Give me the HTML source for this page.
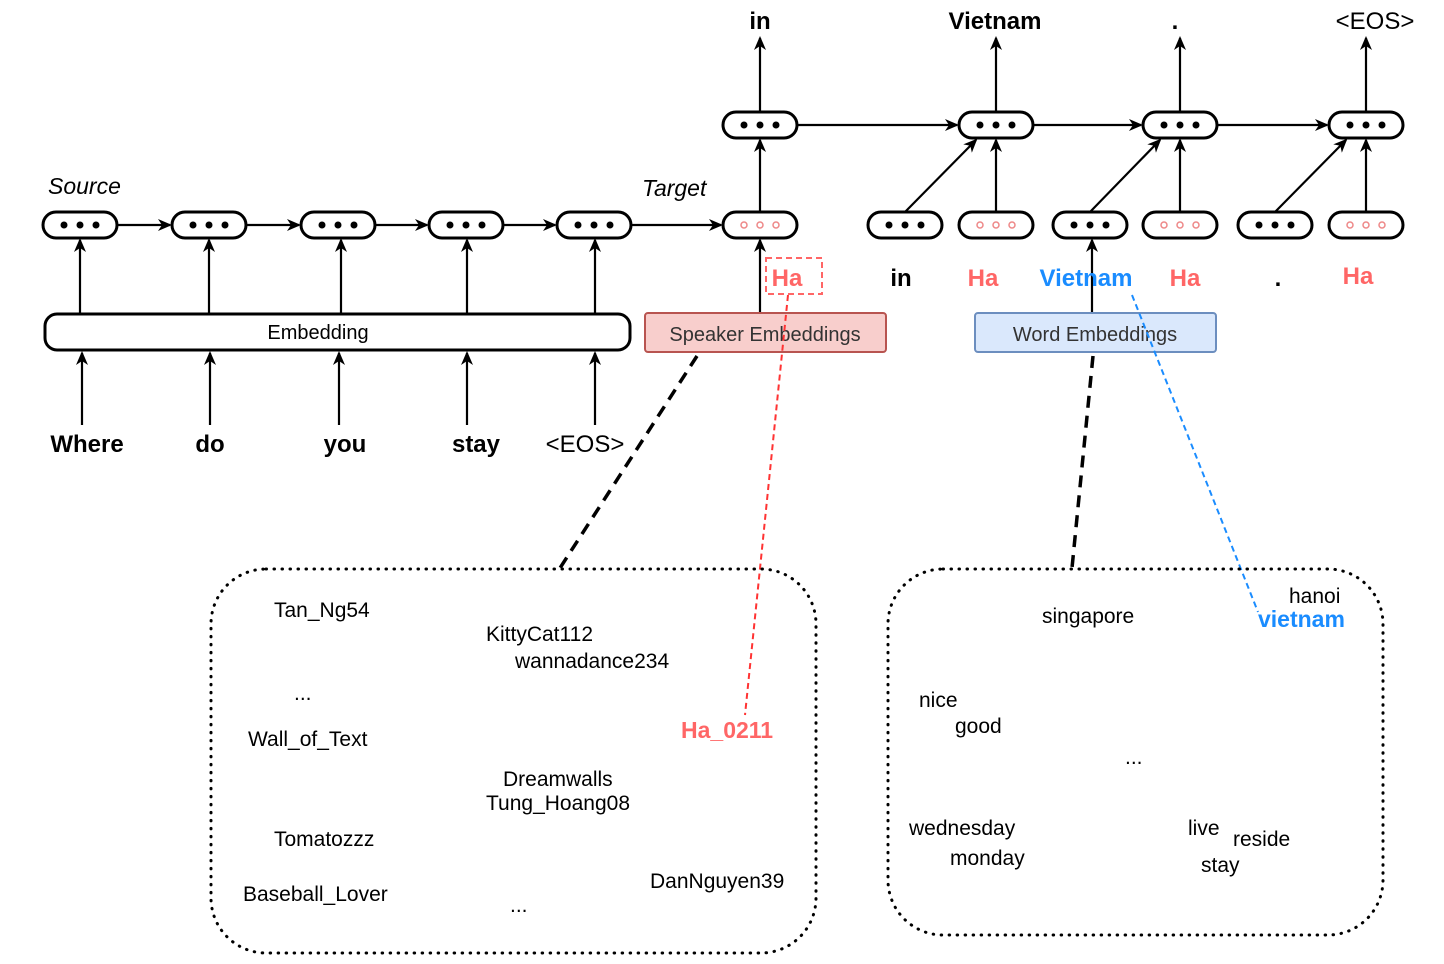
<!DOCTYPE html>
<html><head><meta charset="utf-8"><style>
html,body{margin:0;padding:0;background:#fff;}
svg{display:block;font-family:"Liberation Sans",sans-serif;}
</style></head><body>
<svg width="1444" height="964" viewBox="0 0 1444 964" xmlns="http://www.w3.org/2000/svg">
<defs>
<marker id="a" markerWidth="14" markerHeight="14" refX="12" refY="7" orient="auto" markerUnits="userSpaceOnUse"><path d="M0,1 L14,7 L0,13 L4,7 z" fill="#000"/></marker>
<g id="cb"><rect x="-37" y="-13" width="74" height="26" rx="13" fill="#fff" stroke="#000" stroke-width="3"/><circle cx="-16" cy="0" r="3.5"/><circle cx="0" cy="0" r="3.5"/><circle cx="16" cy="0" r="3.5"/></g>
<g id="cr"><rect x="-37" y="-13" width="74" height="26" rx="13" fill="#fff" stroke="#000" stroke-width="3"/><circle cx="-16" cy="0" r="3" fill="none" stroke="#e88" stroke-width="1.5"/><circle cx="0" cy="0" r="3" fill="none" stroke="#e88" stroke-width="1.5"/><circle cx="16" cy="0" r="3" fill="none" stroke="#e88" stroke-width="1.5"/></g>
</defs>
<g stroke="#000" stroke-width="2.2" fill="none">
<line x1="117" y1="225" x2="170" y2="225" marker-end="url(#a)"/>
<line x1="246" y1="225" x2="299" y2="225" marker-end="url(#a)"/>
<line x1="375" y1="225" x2="427" y2="225" marker-end="url(#a)"/>
<line x1="503" y1="225" x2="555" y2="225" marker-end="url(#a)"/>
<line x1="631" y1="225" x2="721" y2="225" marker-end="url(#a)"/>
<line x1="80" y1="314" x2="80" y2="240" marker-end="url(#a)"/>
<line x1="209" y1="314" x2="209" y2="240" marker-end="url(#a)"/>
<line x1="341" y1="314" x2="341" y2="240" marker-end="url(#a)"/>
<line x1="467" y1="314" x2="467" y2="240" marker-end="url(#a)"/>
<line x1="595" y1="314" x2="595" y2="240" marker-end="url(#a)"/>
<line x1="82" y1="425" x2="82" y2="353" marker-end="url(#a)"/>
<line x1="210" y1="425" x2="210" y2="353" marker-end="url(#a)"/>
<line x1="339" y1="425" x2="339" y2="353" marker-end="url(#a)"/>
<line x1="467" y1="425" x2="467" y2="353" marker-end="url(#a)"/>
<line x1="595" y1="425" x2="595" y2="353" marker-end="url(#a)"/>
<line x1="760" y1="313" x2="760" y2="240" marker-end="url(#a)"/>
<line x1="760" y1="212" x2="760" y2="140" marker-end="url(#a)"/>
<line x1="797" y1="125" x2="957" y2="125" marker-end="url(#a)"/>
<line x1="1033" y1="125" x2="1141" y2="125" marker-end="url(#a)"/>
<line x1="1217" y1="125" x2="1327" y2="125" marker-end="url(#a)"/>
<line x1="760" y1="112" x2="760" y2="38" marker-end="url(#a)"/>
<line x1="996" y1="112" x2="996" y2="38" marker-end="url(#a)"/>
<line x1="1180" y1="112" x2="1180" y2="38" marker-end="url(#a)"/>
<line x1="1366" y1="112" x2="1366" y2="38" marker-end="url(#a)"/>
<line x1="996" y1="212" x2="996" y2="140" marker-end="url(#a)"/>
<line x1="1180" y1="212" x2="1180" y2="140" marker-end="url(#a)"/>
<line x1="1366" y1="212" x2="1366" y2="140" marker-end="url(#a)"/>
<line x1="905" y1="212" x2="976" y2="140" marker-end="url(#a)"/>
<line x1="1090" y1="212" x2="1160" y2="140" marker-end="url(#a)"/>
<line x1="1275" y1="212" x2="1346" y2="140" marker-end="url(#a)"/>
<line x1="1092" y1="313" x2="1092" y2="240" marker-end="url(#a)"/>
</g>
<use href="#cb" x="80" y="225"/><use href="#cb" x="209" y="225"/><use href="#cb" x="338" y="225"/><use href="#cb" x="466" y="225"/><use href="#cb" x="594" y="225"/>
<use href="#cr" x="760" y="225"/>
<use href="#cb" x="760" y="125"/><use href="#cb" x="996" y="125"/><use href="#cb" x="1180" y="125"/><use href="#cb" x="1366" y="125"/>
<use href="#cb" x="905" y="225"/><use href="#cr" x="996" y="225"/><use href="#cb" x="1090" y="225"/><use href="#cr" x="1180" y="225"/><use href="#cb" x="1275" y="225"/><use href="#cr" x="1366" y="225"/>
<rect x="45" y="314" width="585" height="36" rx="12" fill="#fff" stroke="#000" stroke-width="3"/>
<text x="318" y="339" font-size="20" text-anchor="middle">Embedding</text>
<rect x="645" y="313" width="241" height="39" rx="3" fill="#f8cecc" stroke="#b85450" stroke-width="2"/>
<text x="765" y="341" font-size="20" text-anchor="middle" fill="#333">Speaker Embeddings</text>
<rect x="975" y="313" width="241" height="39" rx="3" fill="#dae8fc" stroke="#6c8ebf" stroke-width="2"/>
<text x="1095" y="341" font-size="20" text-anchor="middle" fill="#333">Word Embeddings</text>
<line x1="697" y1="356" x2="560" y2="568" stroke="#000" stroke-width="3.5" stroke-dasharray="12,8"/>
<line x1="1093" y1="356" x2="1072" y2="568" stroke="#000" stroke-width="3.5" stroke-dasharray="12,8"/>
<line x1="788" y1="295" x2="745" y2="715" stroke="#f33" stroke-width="2" stroke-dasharray="6,4"/>
<line x1="1132" y1="295" x2="1258" y2="612" stroke="#1a8cff" stroke-width="2" stroke-dasharray="6,4"/>
<rect x="766" y="258" width="56" height="36" fill="none" stroke="#f66" stroke-width="2" stroke-dasharray="6,4"/>
<rect x="211" y="569" width="605" height="384" rx="55" fill="none" stroke="#000" stroke-width="3" stroke-dasharray="0.5,7.5" stroke-linecap="round"/>
<rect x="888" y="569" width="495" height="366" rx="55" fill="none" stroke="#000" stroke-width="3" stroke-dasharray="0.5,7.5" stroke-linecap="round"/>
<g font-size="23">
<text x="48" y="194" font-style="italic">Source</text>
<text x="642" y="196" font-style="italic">Target</text>
</g>
<g font-size="24" font-weight="bold" text-anchor="middle">
<text x="87" y="452">Where</text><text x="210" y="452">do</text><text x="345" y="452">you</text><text x="476" y="452">stay</text>
<text x="585" y="452" font-weight="normal">&lt;EOS&gt;</text>
<text x="760" y="29">in</text><text x="995" y="29">Vietnam</text><text x="1175" y="29">.</text>
<text x="1375" y="29" font-weight="normal">&lt;EOS&gt;</text>
<text x="901" y="286">in</text>
<text x="983" y="286" fill="#f66">Ha</text>
<text x="1086" y="286" fill="#1a8cff">Vietnam</text>
<text x="1185" y="286" fill="#f66">Ha</text>
<text x="1278" y="286">.</text>
<text x="1358" y="284" fill="#f66">Ha</text>
<text x="787" y="286" fill="#f66">Ha</text>
</g>
<g font-size="21">
<text x="274" y="617">Tan_Ng54</text>
<text x="486" y="641">KittyCat112</text>
<text x="515" y="668">wannadance234</text>
<text x="294" y="700">...</text>
<text x="248" y="746">Wall_of_Text</text>
<text x="681" y="738" fill="#f66" font-size="23" font-weight="bold">Ha_0211</text>
<text x="503" y="786">Dreamwalls</text>
<text x="486" y="810">Tung_Hoang08</text>
<text x="274" y="846">Tomatozzz</text>
<text x="650" y="888">DanNguyen39</text>
<text x="243" y="901">Baseball_Lover</text>
<text x="510" y="912">...</text>
<text x="1042" y="623">singapore</text>
<text x="1289" y="603">hanoi</text>
<text x="1258" y="627" fill="#1a8cff" font-weight="bold" font-size="23">vietnam</text>
<text x="919" y="707">nice</text>
<text x="955" y="733">good</text>
<text x="1125" y="764">...</text>
<text x="909" y="835">wednesday</text>
<text x="950" y="865">monday</text>
<text x="1188" y="835">live</text>
<text x="1233" y="846">reside</text>
<text x="1201" y="872">stay</text>
</g>
</svg>
</body></html>
